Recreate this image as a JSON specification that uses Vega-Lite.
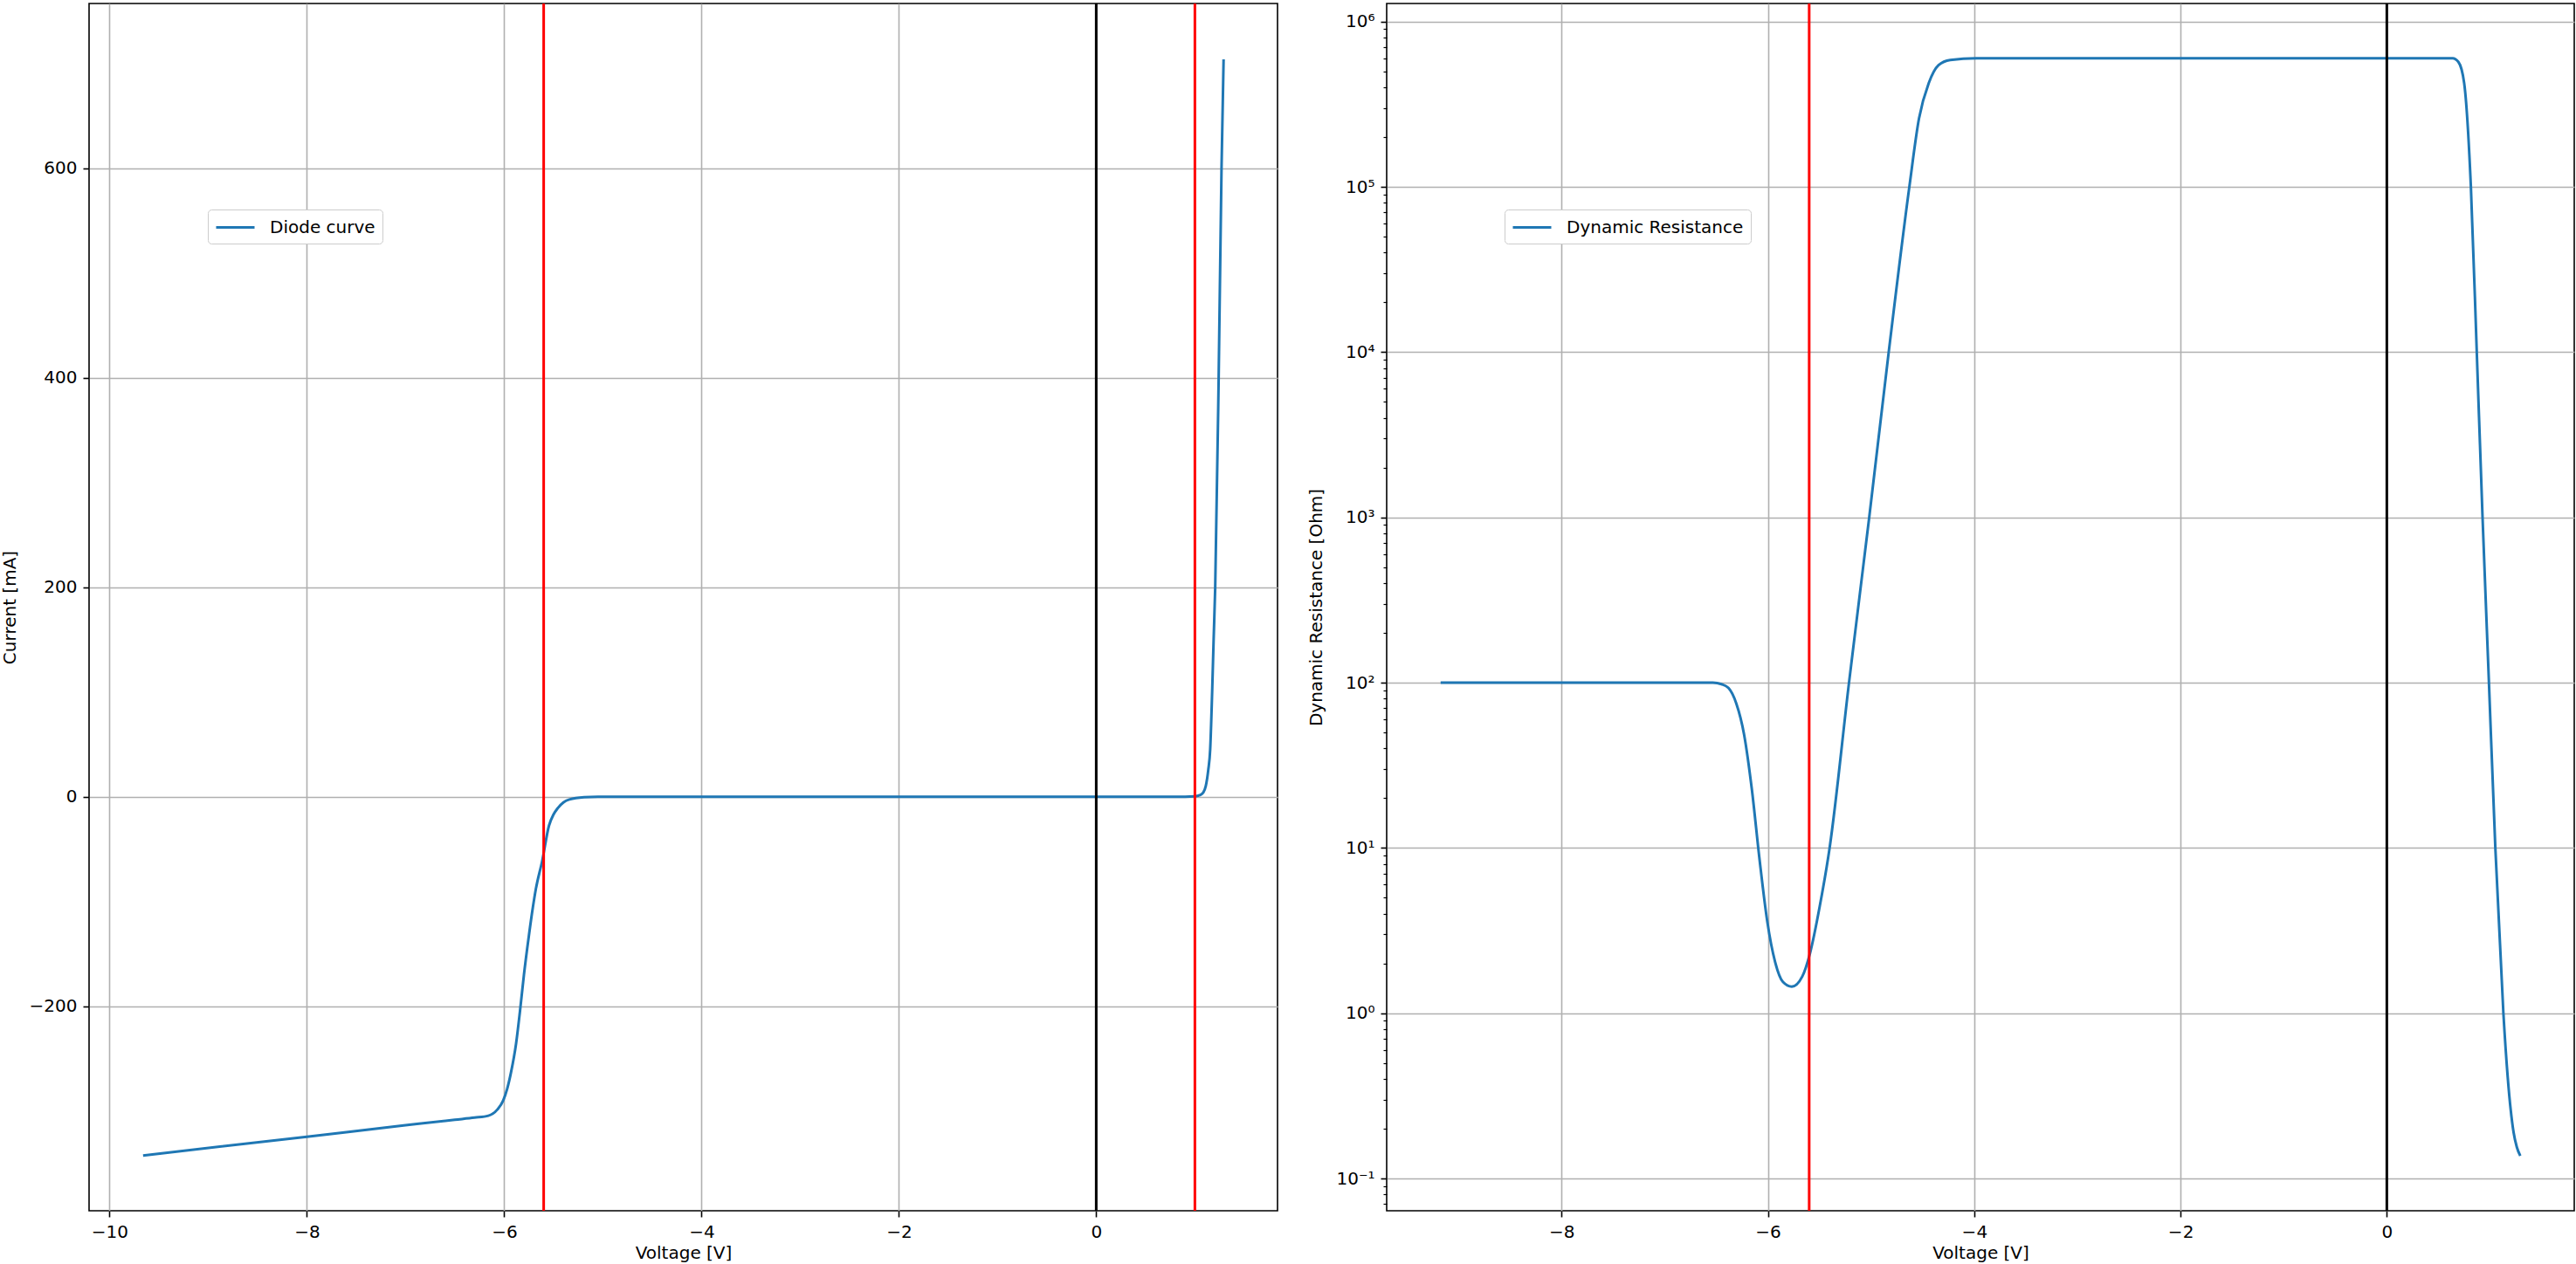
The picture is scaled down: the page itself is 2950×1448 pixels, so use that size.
{
  "$schema": "https://vega.github.io/schema/vega-lite/v6.json",
  "description": "Diode curve and dynamic resistance",
  "padding": {"left": 0, "top": 1, "right": 0, "bottom": 0},
  "bounds": "flush",
  "spacing": 125,
  "resolve": {"scale": {"color": "independent"}, "legend": {"color": "independent"}},
  "datasets": {
    "diode": [
      {"v": -9.66, "i": -342.6},
      {"v": -8.0, "i": -324.7},
      {"v": -7.0, "i": -313.8},
      {"v": -6.5, "i": -308.5},
      {"v": -6.3, "i": -306.5},
      {"v": -6.16, "i": -304.6},
      {"v": -6.07, "i": -298.8},
      {"v": -6.01, "i": -290},
      {"v": -5.97, "i": -279},
      {"v": -5.93, "i": -262.8},
      {"v": -5.88, "i": -236},
      {"v": -5.84, "i": -204.7},
      {"v": -5.8, "i": -170},
      {"v": -5.75, "i": -132.8},
      {"v": -5.71, "i": -106},
      {"v": -5.68, "i": -88.5},
      {"v": -5.614, "i": -60.9},
      {"v": -5.546, "i": -27.6},
      {"v": -5.5, "i": -17},
      {"v": -5.458, "i": -11},
      {"v": -5.4, "i": -5.5},
      {"v": -5.34, "i": -2.7},
      {"v": -5.19, "i": -0.5},
      {"v": -5.05, "i": -0.1},
      {"v": -4.0, "i": 0},
      {"v": 0.9, "i": 0},
      {"v": 1.0, "i": 0.3},
      {"v": 1.05, "i": 1.5},
      {"v": 1.085, "i": 4},
      {"v": 1.11, "i": 10},
      {"v": 1.135, "i": 25},
      {"v": 1.155, "i": 45},
      {"v": 1.175, "i": 100},
      {"v": 1.19, "i": 150},
      {"v": 1.206, "i": 200},
      {"v": 1.241, "i": 400},
      {"v": 1.27, "i": 600},
      {"v": 1.291, "i": 704}
    ],
    "resistance": [
      {"v": -9.173, "r": 100},
      {"v": -7.0, "r": 100},
      {"v": -6.534, "r": 100},
      {"v": -6.45, "r": 98},
      {"v": -6.383, "r": 93},
      {"v": -6.307, "r": 75},
      {"v": -6.231, "r": 48.6},
      {"v": -6.156, "r": 22.7},
      {"v": -6.081, "r": 8.5},
      {"v": -6.006, "r": 3.58},
      {"v": -5.93, "r": 2.04},
      {"v": -5.855, "r": 1.55},
      {"v": -5.768, "r": 1.45},
      {"v": -5.667, "r": 1.67},
      {"v": -5.591, "r": 2.32},
      {"v": -5.497, "r": 4.46},
      {"v": -5.402, "r": 10},
      {"v": -5.214, "r": 100},
      {"v": -5.018, "r": 1000},
      {"v": -4.829, "r": 10000},
      {"v": -4.629, "r": 100000},
      {"v": -4.535, "r": 260000},
      {"v": -4.441, "r": 424000},
      {"v": -4.346, "r": 545000},
      {"v": -4.233, "r": 586000},
      {"v": -3.98, "r": 600000},
      {"v": 0.638, "r": 600000},
      {"v": 0.694, "r": 570000},
      {"v": 0.75, "r": 424000},
      {"v": 0.815, "r": 100000},
      {"v": 0.872, "r": 10000},
      {"v": 0.928, "r": 1000},
      {"v": 0.99, "r": 100},
      {"v": 1.052, "r": 10},
      {"v": 1.13, "r": 1},
      {"v": 1.172, "r": 0.41},
      {"v": 1.229, "r": 0.19},
      {"v": 1.26, "r": 0.155},
      {"v": 1.294, "r": 0.137}
    ]
  },
  "hconcat": [
    {
      "width": 1361,
      "height": 1383,
      "layer": [
        {
          "data": {"name": "diode"},
          "mark": {"type": "line", "strokeWidth": 3, "interpolate": "monotone"},
          "encoding": {
            "x": {
              "field": "v", "type": "quantitative",
              "scale": {"domain": [-10.2075, 1.8375], "nice": false, "zero": false},
              "axis": {"title": "Voltage [V]", "values": [-10, -8, -6, -4, -2, 0], "format": "d", "titlePadding": 4}
            },
            "y": {
              "field": "i", "type": "quantitative",
              "scale": {"domain": [-395.4, 757.4], "nice": false, "zero": false},
              "axis": {"title": "Current [mA]", "values": [-200, 0, 200, 400, 600], "format": "d", "titlePadding": 12}
            },
            "color": {
              "datum": "Diode curve", "type": "nominal",
              "scale": {"range": ["#1f77b4"]},
              "legend": {"orient": "none", "legendX": 136, "legendY": 236}
            }
          }
        },
        {
          "data": {"values": [{"x": -5.6}, {"x": 1.0}]},
          "mark": {"type": "rule", "color": "#ff0000", "strokeWidth": 3},
          "encoding": {"x": {"field": "x", "type": "quantitative"}}
        },
        {
          "data": {"values": [{"x": 0}]},
          "mark": {"type": "rule", "color": "#000000", "strokeWidth": 3},
          "encoding": {"x": {"field": "x", "type": "quantitative"}}
        }
      ]
    },
    {
      "width": 1360,
      "height": 1383,
      "layer": [
        {
          "data": {"name": "resistance"},
          "mark": {"type": "line", "strokeWidth": 3, "interpolate": "monotone"},
          "encoding": {
            "x": {
              "field": "v", "type": "quantitative",
              "scale": {"domain": [-9.696, 1.817], "nice": false, "zero": false},
              "axis": {"title": "Voltage [V]", "values": [-8, -6, -4, -2, 0], "format": "d", "titlePadding": 4}
            },
            "y": {
              "field": "r", "type": "quantitative",
              "scale": {"type": "log", "domain": [0.0638, 1288000], "nice": false},
              "axis": {
                "title": "Dynamic Resistance [Ohm]",
                "titlePadding": 12,
                "values": [0.07, 0.08, 0.09, 0.1, 0.2, 0.3, 0.4, 0.5, 0.6, 0.7, 0.8, 0.9, 1, 2, 3, 4, 5, 6, 7, 8, 9, 10, 20, 30, 40, 50, 60, 70, 80, 90, 100, 200, 300, 400, 500, 600, 700, 800, 900, 1000, 2000, 3000, 4000, 5000, 6000, 7000, 8000, 9000, 10000, 20000, 30000, 40000, 50000, 60000, 70000, 80000, 90000, 100000, 200000, 300000, 400000, 500000, 600000, 700000, 800000, 900000, 1000000],
                "labelExpr": "abs(log(datum.value)/LN10 - round(log(datum.value)/LN10)) < 0.001 ? '10' + ['⁻¹', '⁰', '¹', '²', '³', '⁴', '⁵', '⁶'][round(log(datum.value)/LN10) + 1] : ''",
                "gridOpacity": {"condition": {"test": "abs(log(datum.value)/LN10 - round(log(datum.value)/LN10)) < 0.001", "value": 1}, "value": 0},
                "tickSize": {"condition": {"test": "abs(log(datum.value)/LN10 - round(log(datum.value)/LN10)) < 0.001", "value": 7}, "value": 4},
                "tickWidth": {"condition": {"test": "abs(log(datum.value)/LN10 - round(log(datum.value)/LN10)) < 0.001", "value": 1.6}, "value": 1.2}
              }
            },
            "color": {
              "datum": "Dynamic Resistance", "type": "nominal",
              "scale": {"range": ["#1f77b4"]},
              "legend": {"orient": "none", "legendX": 135, "legendY": 236}
            }
          }
        },
        {
          "data": {"values": [{"x": -5.6}]},
          "mark": {"type": "rule", "color": "#ff0000", "strokeWidth": 3},
          "encoding": {"x": {"field": "x", "type": "quantitative"}}
        },
        {
          "data": {"values": [{"x": 0}]},
          "mark": {"type": "rule", "color": "#000000", "strokeWidth": 3},
          "encoding": {"x": {"field": "x", "type": "quantitative"}}
        }
      ]
    }
  ],
  "config": {
    "font": "DejaVu Sans",
    "view": {"stroke": "#000000", "strokeWidth": 1.6},
    "axis": {
      "domain": false,
      "grid": true,
      "gridColor": "#b0b0b0",
      "gridWidth": 1.6,
      "tickColor": "#000000",
      "tickWidth": 1.6,
      "tickSize": 7,
      "labelFont": "DejaVu Sans",
      "labelFontSize": 20,
      "labelColor": "#000000",
      "labelPadding": 7,
      "labelFlush": false,
      "labelOverlap": false,
      "titleFont": "DejaVu Sans",
      "titleFontSize": 20,
      "titleFontWeight": "normal",
      "titleColor": "#000000",
      "titlePadding": 8
    },
    "legend": {
      "title": null,
      "symbolType": "M-1,0H3",
      "symbolStrokeWidth": 3,
      "symbolSize": 484,
      "symbolFillColor": "transparent",
      "labelFont": "DejaVu Sans",
      "labelFontSize": 20,
      "labelColor": "#000000",
      "labelOffset": 38,
      "labelLimit": 0,
      "padding": 8,
      "strokeColor": "#cccccc",
      "fillColor": "#ffffff",
      "cornerRadius": 4
    }
  }
}
